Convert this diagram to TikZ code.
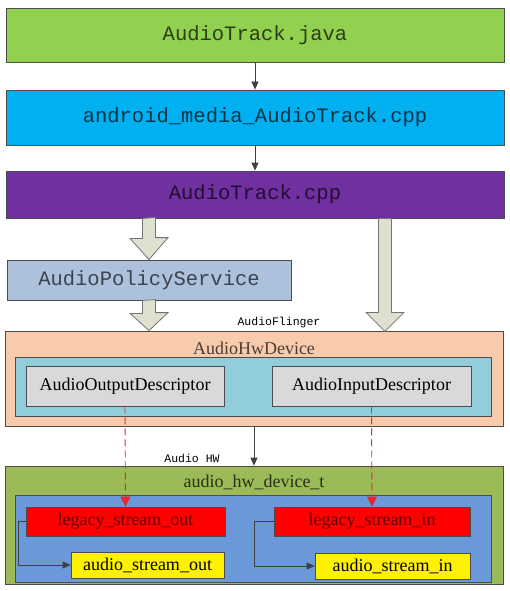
\documentclass[tikz,border=0pt]{standalone}
\usepackage{fontspec}
\setmainfont{Liberation Serif}
\newfontfamily\codefont{Liberation Mono}
\usetikzlibrary{arrows.meta,calc}

\definecolor{javagreen}{HTML}{92D050}
\definecolor{jnicyan}{HTML}{00B0F0}
\definecolor{trackpurple}{HTML}{7030A0}
\definecolor{policyblue}{HTML}{ADC0DC}
\definecolor{flingerorange}{HTML}{F8CBAD}
\definecolor{hwdevblue}{HTML}{92CDDC}
\definecolor{descgray}{HTML}{D9D9D9}
\definecolor{halgreen}{HTML}{9BBB59}
\definecolor{halblue}{HTML}{6A98D8}
\definecolor{fatfill}{HTML}{DDE1CF}
\definecolor{dashred}{HTML}{E8282C}

\tikzset{
  layerbox/.style={draw=black!70, line width=0.8pt, minimum width=498pt, inner sep=0pt},
  codebox/.style={layerbox, font=\codefont\fontsize{20.5}{22}\selectfont},
  innerbox/.style={draw=black!70, line width=0.8pt, inner sep=0pt, font=\fontsize{18}{20}\selectfont},
  smalllabel/.style={font=\codefont\fontsize{11.5}{13}\selectfont},
  flow/.style={draw=black!75, line width=0.8pt, -{Triangle[width=7pt,length=8pt]}},
  dashflow/.style={draw=dashred, line width=0.9pt, dash pattern=on 7pt off 4pt, -{Triangle[width=10pt,length=10pt]}},
  fat/.style={draw=black!55, fill=fatfill, line width=0.8pt, line join=miter},
}

\begin{document}
\begin{tikzpicture}[x=1pt,y=-1pt]
  \useasboundingbox (0,0) rectangle (510,591);

  % java -> jni -> native
  \node[codebox, fill=javagreen, text=black!70!javagreen, minimum height=54pt] (java) at (255,35) {AudioTrack.java};
  \node[codebox, fill=jnicyan, text=black!70!jnicyan, minimum height=55pt] (jni) at (255,117.5) {android\_media\_AudioTrack.cpp};
  \node[codebox, fill=trackpurple, text=black!70!trackpurple, minimum height=47pt] (track) at (255,194.5) {AudioTrack.cpp};
  \node[codebox, fill=policyblue, text=black!65!policyblue, minimum width=284pt, minimum height=40pt] (policy) at (149,280) {AudioPolicyService};

  \draw[flow] (java) -- (jni);
  \draw[flow] (jni) -- (track);

  % AudioFlinger
  \node[layerbox, fill=flingerorange, minimum height=95pt] (flinger) at (254,378.5) {};
  \node[smalllabel, anchor=south] (flingerlabel) at (279,331) {AudioFlinger};
  \node[font=\fontsize{18}{20}\selectfont, text=black!70!flingerorange] (hwdevlabel) at (254,348) {AudioHwDevice};
  \node[innerbox, fill=hwdevblue, minimum width=476pt, minimum height=59pt] (hwdev) at (253,386.5) {};
  \node[innerbox, fill=descgray, minimum width=198pt, minimum height=40pt] (outdesc) at (125,386) {AudioOutputDescriptor};
  \node[innerbox, fill=descgray, minimum width=199pt, minimum height=40pt] (indesc) at (371.5,386) {AudioInputDescriptor};

  % hollow arrows
  \draw[fat] ($(track.south -| policy.north)+(-6.5,0)$) -- ++(0,20) -- ++(-12.5,0)
    -- (policy.north) -- ++(19,-22) -- ++(-12.5,0) -- ++(0,-20) -- cycle;
  \draw[fat] ($(policy.south)+(-6.5,0)$) -- ++(0,13) -- ++(-12.5,0)
    -- (policy.south |- flinger.north) -- ++(19,-18) -- ++(-12.5,0) -- ++(0,-13) -- cycle;
  \draw[fat] ($(track.south)+(123.5,0)$) -- ++(0,94) -- ++(-12.5,0)
    -- ($(track.south -| flinger.north)+(131,113)$) -- ++(19,-19) -- ++(-12.5,0) -- ++(0,-94) -- cycle;

  % Audio HW
  \node[layerbox, fill=halgreen, minimum height=118pt] (hal) at (254,525) {};
  \node[smalllabel, anchor=south] (hallabel) at (192,466) {Audio HW};
  \node[font=\fontsize{18}{20}\selectfont, text=black!75!halgreen] (devlabel) at (254,482) {audio\_hw\_device\_t};
  \node[innerbox, fill=halblue, minimum width=476pt, minimum height=87pt] (halin) at (253,538.5) {};
  \node[innerbox, fill=red, text=black!60!red, minimum width=199pt, minimum height=29pt] (legout) at (125.5,521.5) {legacy\_stream\_out};
  \node[innerbox, fill=red, text=black!60!red, minimum width=196pt, minimum height=29pt] (legin) at (372,521.5) {legacy\_stream\_in};
  \node[innerbox, fill=yellow, minimum width=153pt, minimum height=26pt] (streamout) at (147.5,565) {audio\_stream\_out};
  \node[innerbox, fill=yellow, minimum width=155pt, minimum height=26pt] (streamin) at (392.5,566) {audio\_stream\_in};

  \draw[flow] (flinger.south) -- (hal.north);
  \draw[dashflow] (outdesc.south) -- (legout.north);
  \draw[dashflow] (indesc.south) -- (legin.north);
  \draw[flow] (legout.west) -- ++(-7,0) |- (streamout.west);
  \draw[flow] (legin.west) -- ++(-19,0) |- (streamin.west);
\end{tikzpicture}
\end{document}
